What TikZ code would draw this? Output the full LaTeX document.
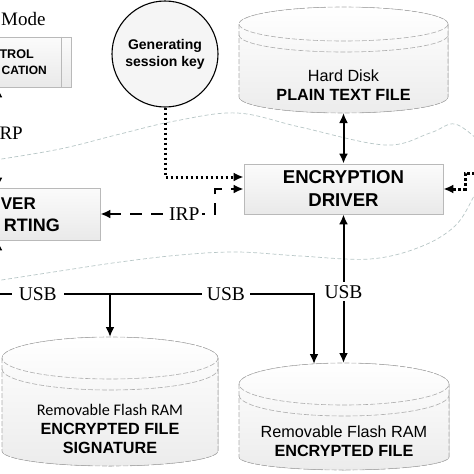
\documentclass[tikz,border=0pt]{standalone}
\usepackage{fontspec}
\setmainfont{Liberation Serif}
\setsansfont{Liberation Sans}
\newfontfamily\calfont{Carlito}
\usetikzlibrary{arrows.meta}

% disk: name, cx, cy (centre of top ellipse), rx, ry, height, ry of bottom
\newcommand{\diskdraw}[7]{%
  \fill[top color=white, bottom color=gray!15]
    (#2-#4,#3) -- (#2-#4,#3+#6)
    arc[start angle=180, end angle=360, x radius=#4pt, y radius=#7pt]
    -- (#2+#4,#3)
    arc[start angle=0, end angle=180, x radius=#4pt, y radius=#5pt] -- cycle;
  \draw[diskline] (#2,#3) ellipse [x radius=#4pt, y radius=#5pt];
  \draw[diskline] (#2-#4,#3+11)
    arc[start angle=180, end angle=360, x radius=#4pt, y radius=#5pt];
  \draw[diskline] (#2-#4,#3) -- (#2-#4,#3+#6)
    arc[start angle=180, end angle=360, x radius=#4pt, y radius=#7pt]
    -- (#2+#4,#3);
  \coordinate (#1-top) at (#2,#3-#5);
  \coordinate (#1-bot) at (#2,#3+#6+#7);
}

\tikzset{
  conn/.style = {line width=2pt},
  dotconn/.style = {line width=3pt, dash pattern=on 2.8pt off 2.2pt},
  irpconn/.style = {line width=2pt, dash pattern=on 12pt off 9pt},
  modeline/.style = {draw=teal!25!gray!45, line width=.7pt, dash pattern=on 4pt off 2.5pt},
  procbox/.style = {rectangle, draw=gray!55, line width=.8pt, top color=gray!3, bottom color=gray!17},
  diskline/.style = {draw=gray!65, line width=.6pt, dash pattern=on 5pt off 2pt},
  bustext/.style = {font=\fontsize{19.5}{22}\selectfont, fill=white, inner sep=3pt},
  boxtext/.style = {font=\sffamily\bfseries\fontsize{18.6}{23}\selectfont, align=center},
  disktext/.style = {font=\sffamily\fontsize{16.2}{19}\selectfont, align=center},
  cuttext/.style = {anchor=base east, inner sep=0pt, font=\sffamily\bfseries\fontsize{#1}{#1}\selectfont}
}

\begin{document}
\begin{tikzpicture}[x=1pt, y=-1pt, >={Latex[length=10pt,width=9pt]}]
 \useasboundingbox (0,0) rectangle (474,474);
 % mode boundaries
 \draw[modeline] plot[smooth, tension=.6] coordinates {(-5,160) (60,149) (120,134) (175,121) (237,113) (300,127) (385,145) (430,133) (455,124) (480,142)};
 \draw[modeline] plot[smooth, tension=.6] coordinates {(-5,281) (60,271) (120,262) (180,255) (237,252) (300,256) (370,259) (420,247) (455,226) (474,196) (480,182)};

 % disks
 \diskdraw{hd}{343.5}{24}{104.5}{17}{73}{16}
 \diskdraw{sig}{110}{358}{108}{21}{93}{15}
 \diskdraw{ef}{344}{384}{105}{21}{73}{13}
 \node[disktext] (hdisk) at (343.5,85) {Hard Disk\\\textbf{PLAIN TEXT FILE}};
 \node[disktext] (sigfile) at (110,429) {{\calfont Removable Flash RAM}\\\textbf{ENCRYPTED FILE}\\\textbf{SIGNATURE}};
 \node[disktext] (encfile) at (344,441) {Removable Flash RAM\\\textbf{ENCRYPTED FILE}};

 % boxes
 \node[procbox, minimum width=131pt, minimum height=50pt] (ctl) at (5.5,62) {};
 \draw[gray!55, line width=.8pt] ([xshift=-10pt]ctl.north east) -- ([xshift=-10pt]ctl.south east);
 \node[procbox, minimum width=160pt, minimum height=52pt] (rep) at (20,214) {};
 \node[procbox, boxtext, minimum width=199pt, minimum height=50pt] (enc) at (343.5,189) {ENCRYPTION\\DRIVER};
 \node[circle, draw, line width=1.1pt, fill=gray!8, minimum size=106pt, align=center,
       font=\sffamily\bfseries\fontsize{14}{17}\selectfont] (gsk) at (165,54) {Generating\\session key};

 % texts cut by the edge
 \node[anchor=base west, inner sep=0pt, font=\fontsize{19}{22}\selectfont] (mode) at (1,25) {Mode};
 \node[cuttext=12.6] (ctl1) at (34,58) {TROL};
 \node[cuttext=12] (ctl2) at (47,74) {CATION};
 \node[anchor=base east, inner sep=0pt, font=\fontsize{19}{22}\selectfont] (irpl) at (23,139) {RP};
 \node[cuttext=17] (rep1) at (36,209) {VER};
 \node[cuttext=18] (rep2) at (60,231) {RTING};

 % connectors
 \coordinate (lx) at (-2,0);
 \draw[conn,<-] (ctl.south -| lx) -- ++(0,35);
 \draw[conn,<-] (rep.north -| lx) -- ++(0,-35);
 \draw[conn,<-] (rep.south -| lx) -- ++(0,30);
 \draw[conn,<-] (gsk.north) -- ++(0,-40);
 \draw[dotconn,->] (gsk.south) |- ([yshift=12pt]enc.west);
 \draw[irpconn,<->] (rep.east) -- node[bustext, inner sep=2pt, pos=.73] {IRP} ++(115,0) |- (enc.west);
 \coordinate (rin) at (480,173);
 \draw[dotconn,->] (rin) -- ++(-15,0) |- (enc.east);
 \draw[conn,<->] (hd-bot) -- (enc.north);

 \coordinate (usbin) at (-5,294);
 \coordinate (ef-usb) at (314,364);
 \coordinate (usbj) at (110,294);
 \draw[conn,->] (usbin) -| node[bustext, inner xsep=7pt, pos=.067] {USB}
   node[bustext, inner xsep=5pt, pos=.362] {USB} (ef-usb);
 \draw[conn,->] (usbj) -- (sig-top);
 \draw[conn,<->] (enc.south) -- node[bustext, pos=.52] {USB} (enc.south |- ef-top);
\end{tikzpicture}
\end{document}
